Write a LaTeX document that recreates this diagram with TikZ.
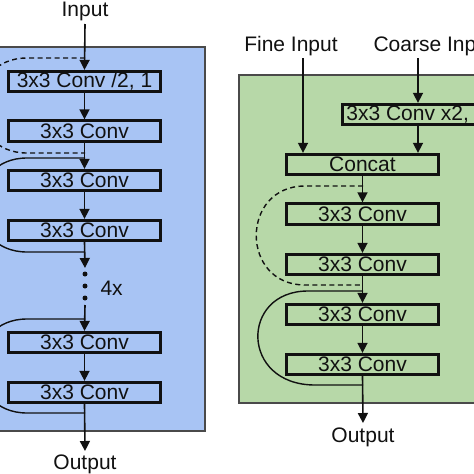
\documentclass[tikz,border=0pt]{standalone}
\usepackage{fontspec}
\setmainfont{Liberation Sans}
\usetikzlibrary{arrows.meta}
\definecolor{panelblue}{HTML}{A8C4F4}
\definecolor{panelgreen}{HTML}{B7D8A8}
\definecolor{panelborder}{HTML}{4A4A4A}
\definecolor{ink}{HTML}{111111}
\begin{document}
\begin{tikzpicture}[x=1pt,y=-1pt,
  every node/.style={font=\fontsize{21}{25}\selectfont, text=ink},
  convbox/.style={draw=ink, line width=2.8pt, minimum width=152pt, minimum height=20.5pt, inner sep=0pt},
  panel/.style={draw=panelborder, line width=2.2pt},
  flow/.style={draw=ink, line width=1.6pt, -{Triangle[length=10pt,width=10pt]}},
  skip/.style={draw=ink, line width=1.4pt},
  dskip/.style={skip, dash pattern=on 5pt off 3.5pt},
  dot/.style={circle, fill=ink, inner sep=0pt, minimum size=5pt}
]
\useasboundingbox (0,0) rectangle (474,474);
\clip (0,0) rectangle (474,474);
\fill[white] (0,0) rectangle (474,474);

% panels
\draw[panel, fill=panelblue] (-10,47) rectangle (205,431);
\draw[panel, fill=panelgreen] (239,75) rectangle (495,403);

% ---------- left column ----------
\node[anchor=base] (inL) at (85,16) {Input};
\node[convbox] (L1) at (84.5,81.5) {3x3 Conv /2, 1};
\node[convbox] (L2) at (84.5,131) {3x3 Conv};
\node[convbox] (L3) at (84.5,180.5) {3x3 Conv};
\node[convbox] (L4) at (84.5,230.5) {3x3 Conv};
\coordinate (d0) at (85,268);
\node[dot] (dt1) at (85,274) {};
\node[dot] (dt2) at (85,286) {};
\node[dot] (dt3) at (85,298) {};
\coordinate (d4) at (85,305);
\node[anchor=west] (rep) at (97,288) {4x};
\node[convbox] (L5) at (84.5,342.5) {3x3 Conv};
\node[convbox] (L6) at (84.5,392.5) {3x3 Conv};
\node[anchor=base] (outL) at (85,469) {Output};

\coordinate (inLb) at (85,24);
\draw[flow] (inLb) -- (L1.north);
\draw[flow] (L1) -- (L2);
\draw[flow] (L2) -- (L3);
\draw[flow] (L3) -- (L4);
\draw[flow] (L4.south) -- (d0);
\draw[flow] (d4) -- (L5.north);
\draw[flow] (L5) -- (L6);
\coordinate (outLt) at (85,451);
\draw[flow] (L6.south) -- (outLt);

% left skip connections
\coordinate (s1a) at (85,58);  \coordinate (s1b) at (85,153);
\coordinate (s2a) at (85,158); \coordinate (s2b) at (85,252);
\coordinate (s3a) at (85,319); \coordinate (s3b) at (85,413);
\draw[dskip] (s1a) -- (27,58) .. controls (-37,58) and (-37,153) .. (27,153) -- (s1b);
\draw[skip] (s2a) -- (27,158) .. controls (-37,158) and (-37,252) .. (27,252) -- (s2b);
\draw[skip] (s3a) -- (27,319) .. controls (-37,319) and (-37,413) .. (27,413) -- (s3b);

% ---------- right column ----------
\node[anchor=base] (fine) at (291,51) {Fine Input};
\node[anchor=base west] (coarse) at (370,51) {Coarse Input};
\node[convbox, anchor=west, minimum width=0pt, inner xsep=4pt] (C0) at (341,114.5) {3x3 Conv x2, 1\hspace{6pt}};
\node[convbox] (R1) at (362.5,164.5) {Concat};
\node[convbox] (R2) at (362.5,214) {3x3 Conv};
\node[convbox] (R3) at (362.5,264.5) {3x3 Conv};
\node[convbox] (R4) at (362.5,314.5) {3x3 Conv};
\node[convbox] (R5) at (362.5,364.5) {3x3 Conv};
\node[anchor=base] (outR) at (363,442) {Output};

\coordinate (fi) at (303,58);
\coordinate (ci) at (418,58);
\draw[flow] (fi) -- (fi |- R1.north);
\draw[flow] (ci) -- (ci |- C0.north);
\draw[flow] (ci |- C0.south) -- (ci |- R1.north);
\draw[flow] (R1) -- (R2);
\draw[flow] (R2) -- (R3);
\draw[flow] (R3) -- (R4);
\draw[flow] (R4) -- (R5);
\coordinate (outRt) at (363,423);
\draw[flow] (R5.south) -- (outRt);

\coordinate (t1a) at (363,186); \coordinate (t1b) at (363,285);
\coordinate (t2a) at (363,291); \coordinate (t2b) at (363,385);
\draw[dskip] (t1a) -- (305,186) .. controls (240,186) and (240,285) .. (305,285) -- (t1b);
\draw[skip] (t2a) -- (308,291) .. controls (240,291) and (240,385) .. (315,385) -- (t2b);
\end{tikzpicture}
\end{document}
